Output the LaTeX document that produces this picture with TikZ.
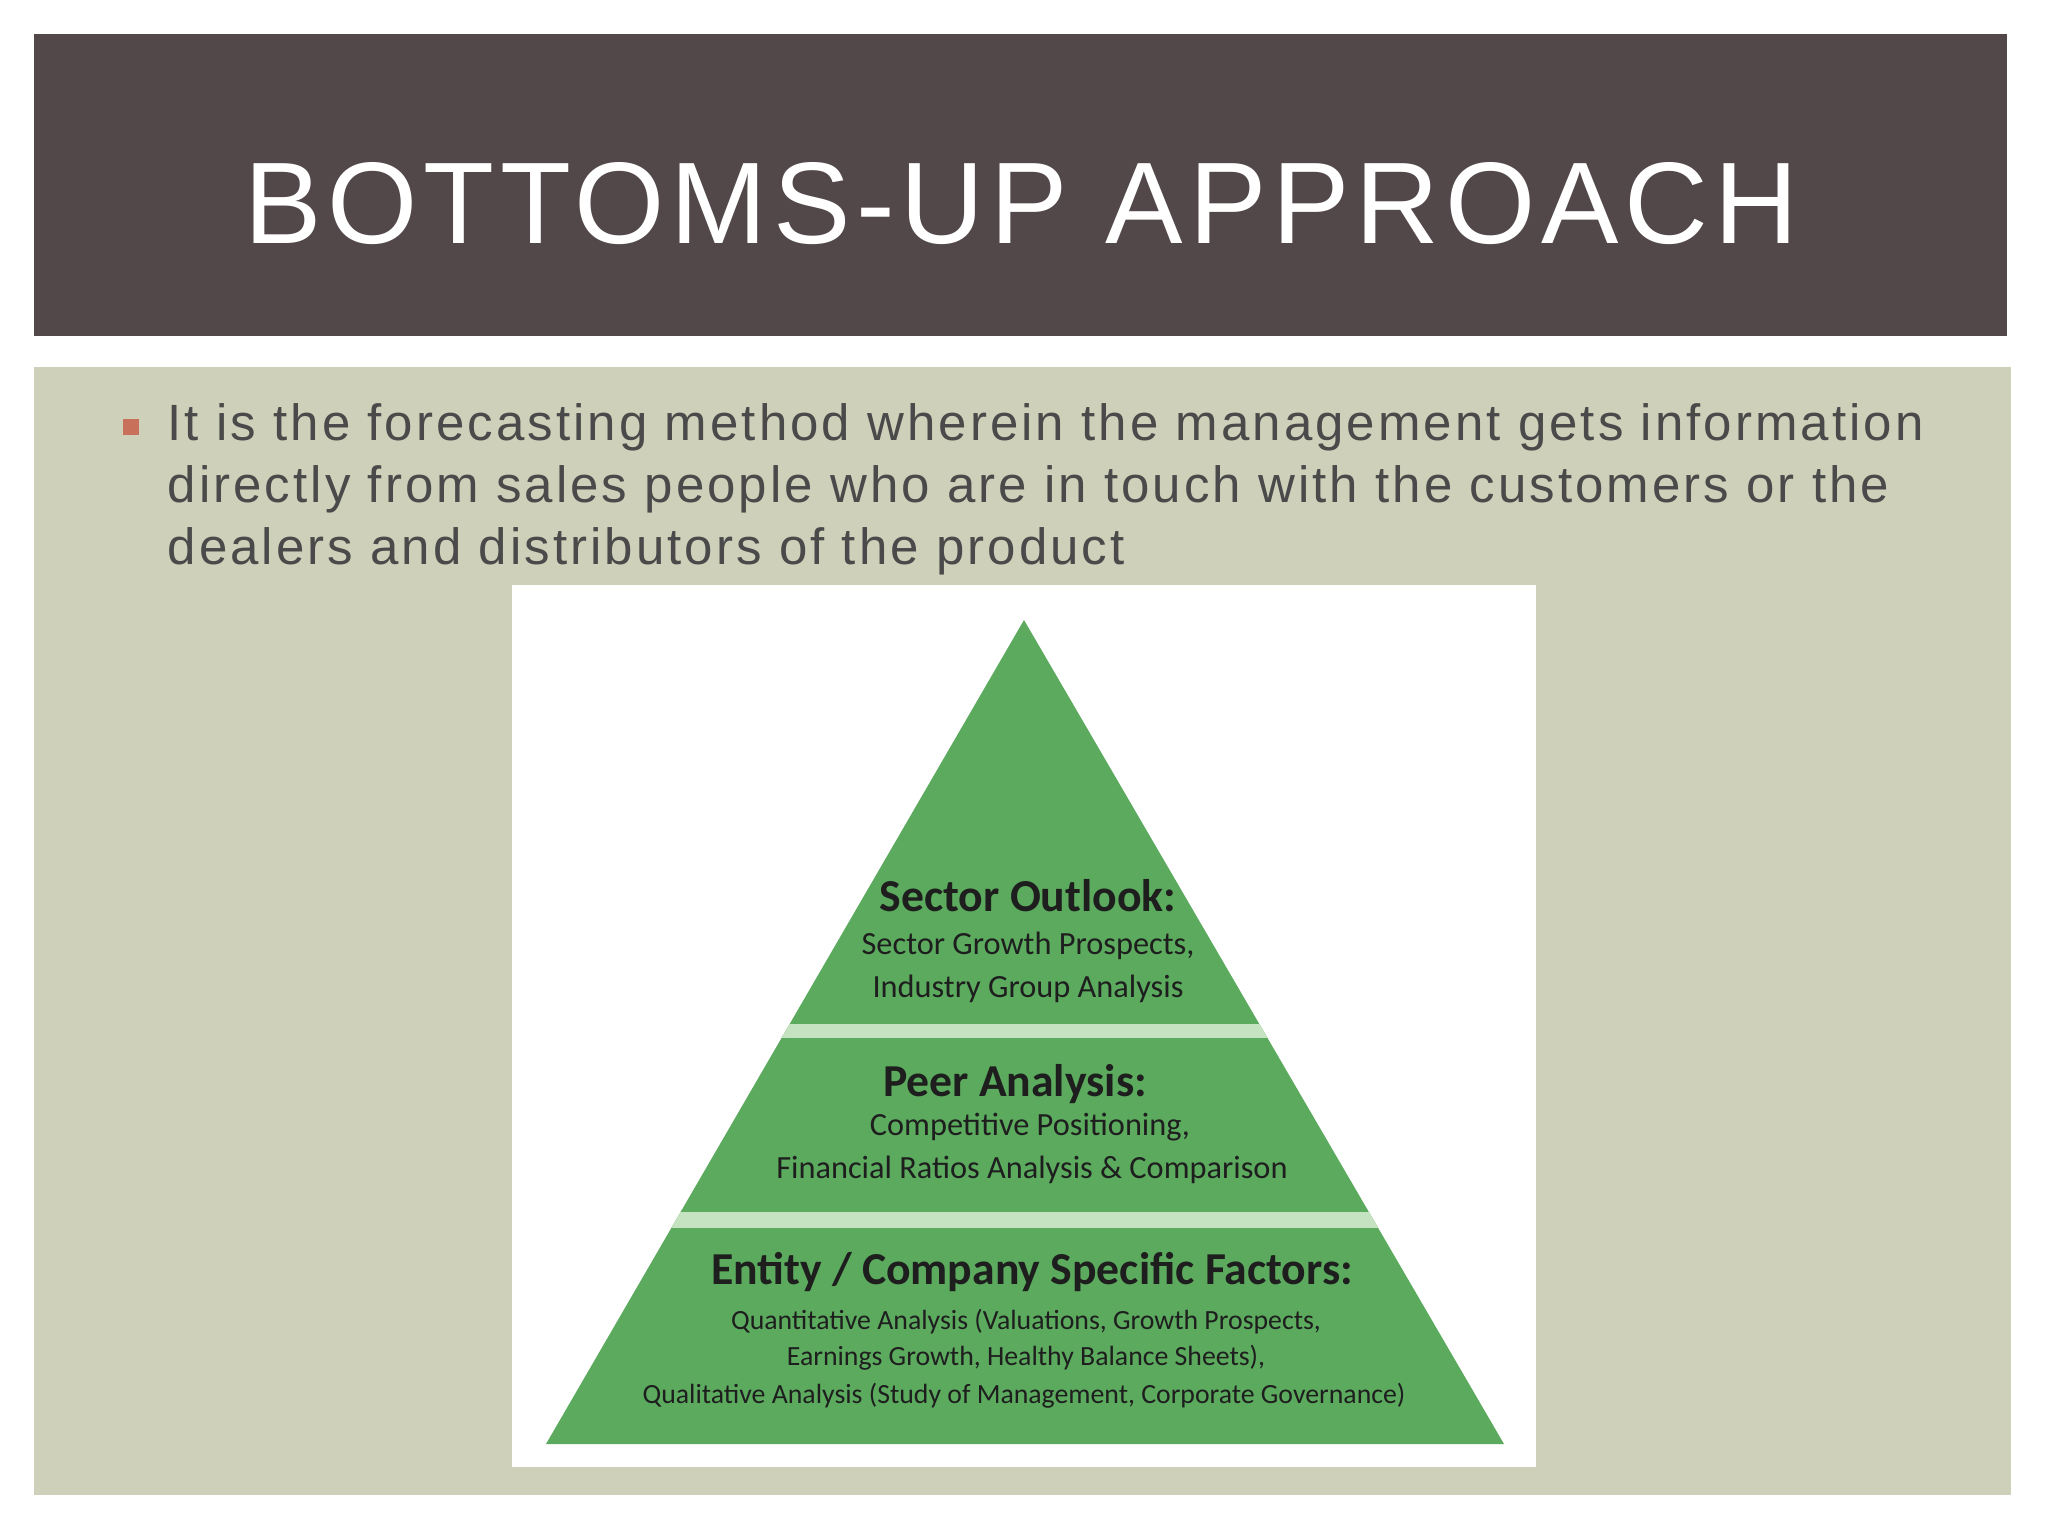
\documentclass[tikz,border=0pt]{standalone}
\usepackage{fontspec}
\setmainfont{Liberation Sans}
\newfontfamily\pyr{Carlito}
\definecolor{titlebg}{HTML}{524849}
\definecolor{bodybg}{HTML}{CFD0BA}
\definecolor{bulletc}{HTML}{C8705A}
\definecolor{txt}{HTML}{4A4A4A}
\definecolor{pgreen}{HTML}{5BAA5E}
\definecolor{pstripe}{HTML}{C5E3C0}
\definecolor{ptxt}{HTML}{1E1E1E}
\tikzset{
  ptitle/.style={font=\pyr\bfseries\fontsize{13}{15}\selectfont, text=ptxt, inner sep=0},
  pline/.style={font=\pyr\fontsize{9.2}{11}\selectfont, text=ptxt, inner sep=0},
  eline/.style={font=\pyr\fontsize{7.9}{9}\selectfont, text=ptxt, inner sep=0},
  btxt/.style={font=\addfontfeatures{LetterSpace=6}\fontsize{14.5}{17}\selectfont, text=txt, anchor=base west, inner sep=0}
}
\begin{document}
\begin{tikzpicture}[x={(0.01cm,0)},y={(0,-0.01cm)}]
\useasboundingbox (0,0) rectangle (2048,1536);
\fill[white] (0,0) rectangle (2048,1536);
\fill[titlebg] (34,34) rectangle (2007,336);
\node[text=white, font=\addfontfeatures{LetterSpace=5}\fontsize{33}{38}\selectfont, inner sep=0] (title) at (1021,204) {BOTTOMS-UP APPROACH};
\fill[bodybg] (34,367) rectangle (2011,1495);
\fill[bulletc] (123,419) rectangle (139,435) node[coordinate] (bul) {};
\node[btxt] (l1) at (167,440) {It is the forecasting method wherein the management gets information};
\node[btxt] (l2) at (167,502) {directly from sales people who are in touch with the customers or the};
\node[btxt] (l3) at (167,564) {dealers and distributors of the product};
\fill[white] (512,585) rectangle (1536,1467);
\begin{scope}
\clip (1024,620) -- (1504,1444) -- (546,1444) -- cycle;
\fill[pgreen] (500,600) rectangle (1550,1450);
\fill[pstripe] (500,1024) rectangle (1550,1038);
\fill[pstripe] (500,1212) rectangle (1550,1228);
\end{scope}
\node[ptitle] (s1) at (1028,896) {Sector Outlook:};
\node[pline] (s2) at (1028,946) {Sector Growth Prospects,};
\node[pline] (s3) at (1028,989) {Industry Group Analysis};
\node[ptitle] (p1) at (1015,1084) {Peer Analysis:};
\node[pline] (p2) at (1030,1127) {Competitive Positioning,};
\node[pline] (p3) at (1032,1170) {Financial Ratios Analysis \& Comparison};
\node[ptitle] (e1) at (1032,1272) {Entity / Company Specific Factors:};
\node[eline] (e2) at (1026,1322) {Quantitative Analysis (Valuations, Growth Prospects,};
\node[eline] (e3) at (1026,1358) {Earnings Growth, Healthy Balance Sheets),};
\node[eline] (e4) at (1024,1396) {Qualitative Analysis (Study of Management, Corporate Governance)};
\end{tikzpicture}
\end{document}
